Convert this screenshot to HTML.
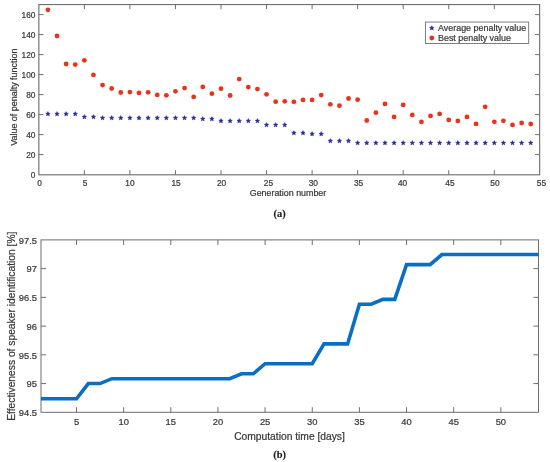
<!DOCTYPE html>
<html lang="en"><head><meta charset="utf-8"><title>Figure</title>
<style>html,body{margin:0;padding:0;background:#fff}body{width:550px;height:462px;overflow:hidden}.s text{stroke:#383838;stroke-width:.22px}.c text{stroke:#222;stroke-width:.15px}</style>
</head><body>
<svg width="550" height="462" viewBox="0 0 550 462" style="display:block">
<rect x="0" y="0" width="550" height="462" fill="#ffffff"/>
<g font-family="'Liberation Sans', sans-serif" fill="#383838" class="s">
<g stroke="#707070" stroke-width="1.15" fill="none">
<rect x="38.85" y="4.55" width="500.80" height="170.25"/>
<path d="M84.35 174.80V170.20M84.35 4.55V9.15M129.90 174.80V170.20M129.90 4.55V9.15M175.45 174.80V170.20M175.45 4.55V9.15M221.00 174.80V170.20M221.00 4.55V9.15M266.55 174.80V170.20M266.55 4.55V9.15M312.10 174.80V170.20M312.10 4.55V9.15M357.65 174.80V170.20M357.65 4.55V9.15M403.20 174.80V170.20M403.20 4.55V9.15M448.75 174.80V170.20M448.75 4.55V9.15M494.30 174.80V170.20M494.30 4.55V9.15M38.85 154.60H43.45M539.65 154.60H535.05M38.85 134.60H43.45M539.65 134.60H535.05M38.85 114.60H43.45M539.65 114.60H535.05M38.85 94.60H43.45M539.65 94.60H535.05M38.85 74.60H43.45M539.65 74.60H535.05M38.85 54.60H43.45M539.65 54.60H535.05M38.85 34.60H43.45M539.65 34.60H535.05M38.85 14.60H43.45M539.65 14.60H535.05" stroke="#6e6e6e" stroke-width="1"/>
</g>
<g font-size="8.3px">
<text x="39.60" y="185.6" text-anchor="middle">0</text>
<text x="84.95" y="185.6" text-anchor="middle">5</text>
<text x="129.90" y="185.6" text-anchor="middle">10</text>
<text x="176.05" y="185.6" text-anchor="middle">15</text>
<text x="221.60" y="185.6" text-anchor="middle">20</text>
<text x="268.45" y="185.6" text-anchor="middle">25</text>
<text x="313.30" y="185.6" text-anchor="middle">30</text>
<text x="358.55" y="185.6" text-anchor="middle">35</text>
<text x="402.50" y="185.6" text-anchor="middle">40</text>
<text x="449.95" y="185.6" text-anchor="middle">45</text>
<text x="494.90" y="185.6" text-anchor="middle">50</text>
<text x="541.45" y="185.6" text-anchor="middle">55</text>
<text x="35.4" y="178.40" text-anchor="end">0</text>
<text x="35.4" y="158.40" text-anchor="end">20</text>
<text x="35.4" y="138.40" text-anchor="end">40</text>
<text x="35.4" y="118.40" text-anchor="end">60</text>
<text x="35.4" y="98.40" text-anchor="end">80</text>
<text x="35.4" y="78.40" text-anchor="end">100</text>
<text x="35.4" y="58.40" text-anchor="end">120</text>
<text x="35.4" y="38.40" text-anchor="end">140</text>
<text x="35.4" y="18.40" text-anchor="end">160</text>
</g>
<text x="288" y="196.3" font-size="8.9px" text-anchor="middle">Generation number</text>
<text transform="translate(16.6 97.2) rotate(-90)" font-size="8.95px" text-anchor="middle">Value of penalty function</text>
<polygon points="47.91,111.62 48.55,113.10 50.15,113.25 48.94,114.32 49.30,115.89 47.91,115.07 46.52,115.89 46.88,114.32 45.67,113.25 47.27,113.10" fill="#2a2d98" stroke="#2a2d98" stroke-width="0.5" stroke-linejoin="miter"/>
<polygon points="57.02,111.62 57.66,113.10 59.26,113.25 58.05,114.32 58.41,115.89 57.02,115.07 55.63,115.89 55.99,114.32 54.78,113.25 56.38,113.10" fill="#2a2d98" stroke="#2a2d98" stroke-width="0.5" stroke-linejoin="miter"/>
<polygon points="66.13,111.62 66.77,113.10 68.37,113.25 67.16,114.32 67.52,115.89 66.13,115.07 64.74,115.89 65.10,114.32 63.89,113.25 65.49,113.10" fill="#2a2d98" stroke="#2a2d98" stroke-width="0.5" stroke-linejoin="miter"/>
<polygon points="75.24,111.62 75.88,113.10 77.48,113.25 76.27,114.32 76.63,115.89 75.24,115.07 73.85,115.89 74.21,114.32 73.00,113.25 74.60,113.10" fill="#2a2d98" stroke="#2a2d98" stroke-width="0.5" stroke-linejoin="miter"/>
<polygon points="84.35,114.62 84.99,116.10 86.59,116.25 85.38,117.32 85.74,118.89 84.35,118.07 82.96,118.89 83.32,117.32 82.11,116.25 83.71,116.10" fill="#2a2d98" stroke="#2a2d98" stroke-width="0.5" stroke-linejoin="miter"/>
<polygon points="93.46,114.62 94.10,116.10 95.70,116.25 94.49,117.32 94.85,118.89 93.46,118.07 92.07,118.89 92.43,117.32 91.22,116.25 92.82,116.10" fill="#2a2d98" stroke="#2a2d98" stroke-width="0.5" stroke-linejoin="miter"/>
<polygon points="102.57,115.62 103.21,117.10 104.81,117.25 103.60,118.32 103.96,119.89 102.57,119.07 101.18,119.89 101.54,118.32 100.33,117.25 101.93,117.10" fill="#2a2d98" stroke="#2a2d98" stroke-width="0.5" stroke-linejoin="miter"/>
<polygon points="111.68,115.62 112.32,117.10 113.92,117.25 112.71,118.32 113.07,119.89 111.68,119.07 110.29,119.89 110.65,118.32 109.44,117.25 111.04,117.10" fill="#2a2d98" stroke="#2a2d98" stroke-width="0.5" stroke-linejoin="miter"/>
<polygon points="120.79,115.62 121.43,117.10 123.03,117.25 121.82,118.32 122.18,119.89 120.79,119.07 119.40,119.89 119.76,118.32 118.55,117.25 120.15,117.10" fill="#2a2d98" stroke="#2a2d98" stroke-width="0.5" stroke-linejoin="miter"/>
<polygon points="129.90,115.62 130.54,117.10 132.14,117.25 130.93,118.32 131.29,119.89 129.90,119.07 128.51,119.89 128.87,118.32 127.66,117.25 129.26,117.10" fill="#2a2d98" stroke="#2a2d98" stroke-width="0.5" stroke-linejoin="miter"/>
<polygon points="139.01,115.62 139.65,117.10 141.25,117.25 140.04,118.32 140.40,119.89 139.01,119.07 137.62,119.89 137.98,118.32 136.77,117.25 138.37,117.10" fill="#2a2d98" stroke="#2a2d98" stroke-width="0.5" stroke-linejoin="miter"/>
<polygon points="148.12,115.62 148.76,117.10 150.36,117.25 149.15,118.32 149.51,119.89 148.12,119.07 146.73,119.89 147.09,118.32 145.88,117.25 147.48,117.10" fill="#2a2d98" stroke="#2a2d98" stroke-width="0.5" stroke-linejoin="miter"/>
<polygon points="157.23,115.62 157.87,117.10 159.47,117.25 158.26,118.32 158.62,119.89 157.23,119.07 155.84,119.89 156.20,118.32 154.99,117.25 156.59,117.10" fill="#2a2d98" stroke="#2a2d98" stroke-width="0.5" stroke-linejoin="miter"/>
<polygon points="166.34,115.62 166.98,117.10 168.58,117.25 167.37,118.32 167.73,119.89 166.34,119.07 164.95,119.89 165.31,118.32 164.10,117.25 165.70,117.10" fill="#2a2d98" stroke="#2a2d98" stroke-width="0.5" stroke-linejoin="miter"/>
<polygon points="175.45,115.62 176.09,117.10 177.69,117.25 176.48,118.32 176.84,119.89 175.45,119.07 174.06,119.89 174.42,118.32 173.21,117.25 174.81,117.10" fill="#2a2d98" stroke="#2a2d98" stroke-width="0.5" stroke-linejoin="miter"/>
<polygon points="184.56,115.62 185.20,117.10 186.80,117.25 185.59,118.32 185.95,119.89 184.56,119.07 183.17,119.89 183.53,118.32 182.32,117.25 183.92,117.10" fill="#2a2d98" stroke="#2a2d98" stroke-width="0.5" stroke-linejoin="miter"/>
<polygon points="193.67,115.62 194.31,117.10 195.91,117.25 194.70,118.32 195.06,119.89 193.67,119.07 192.28,119.89 192.64,118.32 191.43,117.25 193.03,117.10" fill="#2a2d98" stroke="#2a2d98" stroke-width="0.5" stroke-linejoin="miter"/>
<polygon points="202.78,116.62 203.42,118.10 205.02,118.25 203.81,119.32 204.17,120.89 202.78,120.07 201.39,120.89 201.75,119.32 200.54,118.25 202.14,118.10" fill="#2a2d98" stroke="#2a2d98" stroke-width="0.5" stroke-linejoin="miter"/>
<polygon points="211.89,116.62 212.53,118.10 214.13,118.25 212.92,119.32 213.28,120.89 211.89,120.07 210.50,120.89 210.86,119.32 209.65,118.25 211.25,118.10" fill="#2a2d98" stroke="#2a2d98" stroke-width="0.5" stroke-linejoin="miter"/>
<polygon points="221.00,118.62 221.64,120.10 223.24,120.25 222.03,121.32 222.39,122.89 221.00,122.07 219.61,122.89 219.97,121.32 218.76,120.25 220.36,120.10" fill="#2a2d98" stroke="#2a2d98" stroke-width="0.5" stroke-linejoin="miter"/>
<polygon points="230.11,118.62 230.75,120.10 232.35,120.25 231.14,121.32 231.50,122.89 230.11,122.07 228.72,122.89 229.08,121.32 227.87,120.25 229.47,120.10" fill="#2a2d98" stroke="#2a2d98" stroke-width="0.5" stroke-linejoin="miter"/>
<polygon points="239.22,118.62 239.86,120.10 241.46,120.25 240.25,121.32 240.61,122.89 239.22,122.07 237.83,122.89 238.19,121.32 236.98,120.25 238.58,120.10" fill="#2a2d98" stroke="#2a2d98" stroke-width="0.5" stroke-linejoin="miter"/>
<polygon points="248.33,118.62 248.97,120.10 250.57,120.25 249.36,121.32 249.72,122.89 248.33,122.07 246.94,122.89 247.30,121.32 246.09,120.25 247.69,120.10" fill="#2a2d98" stroke="#2a2d98" stroke-width="0.5" stroke-linejoin="miter"/>
<polygon points="257.44,118.62 258.08,120.10 259.68,120.25 258.47,121.32 258.83,122.89 257.44,122.07 256.05,122.89 256.41,121.32 255.20,120.25 256.80,120.10" fill="#2a2d98" stroke="#2a2d98" stroke-width="0.5" stroke-linejoin="miter"/>
<polygon points="266.55,122.62 267.19,124.10 268.79,124.25 267.58,125.32 267.94,126.89 266.55,126.07 265.16,126.89 265.52,125.32 264.31,124.25 265.91,124.10" fill="#2a2d98" stroke="#2a2d98" stroke-width="0.5" stroke-linejoin="miter"/>
<polygon points="275.66,122.62 276.30,124.10 277.90,124.25 276.69,125.32 277.05,126.89 275.66,126.07 274.27,126.89 274.63,125.32 273.42,124.25 275.02,124.10" fill="#2a2d98" stroke="#2a2d98" stroke-width="0.5" stroke-linejoin="miter"/>
<polygon points="284.77,122.62 285.41,124.10 287.01,124.25 285.80,125.32 286.16,126.89 284.77,126.07 283.38,126.89 283.74,125.32 282.53,124.25 284.13,124.10" fill="#2a2d98" stroke="#2a2d98" stroke-width="0.5" stroke-linejoin="miter"/>
<polygon points="293.88,130.62 294.52,132.10 296.12,132.25 294.91,133.32 295.27,134.89 293.88,134.07 292.49,134.89 292.85,133.32 291.64,132.25 293.24,132.10" fill="#2a2d98" stroke="#2a2d98" stroke-width="0.5" stroke-linejoin="miter"/>
<polygon points="302.99,130.62 303.63,132.10 305.23,132.25 304.02,133.32 304.38,134.89 302.99,134.07 301.60,134.89 301.96,133.32 300.75,132.25 302.35,132.10" fill="#2a2d98" stroke="#2a2d98" stroke-width="0.5" stroke-linejoin="miter"/>
<polygon points="312.10,131.62 312.74,133.10 314.34,133.25 313.13,134.32 313.49,135.89 312.10,135.07 310.71,135.89 311.07,134.32 309.86,133.25 311.46,133.10" fill="#2a2d98" stroke="#2a2d98" stroke-width="0.5" stroke-linejoin="miter"/>
<polygon points="321.21,131.62 321.85,133.10 323.45,133.25 322.24,134.32 322.60,135.89 321.21,135.07 319.82,135.89 320.18,134.32 318.97,133.25 320.57,133.10" fill="#2a2d98" stroke="#2a2d98" stroke-width="0.5" stroke-linejoin="miter"/>
<polygon points="330.32,138.62 330.96,140.10 332.56,140.25 331.35,141.32 331.71,142.89 330.32,142.07 328.93,142.89 329.29,141.32 328.08,140.25 329.68,140.10" fill="#2a2d98" stroke="#2a2d98" stroke-width="0.5" stroke-linejoin="miter"/>
<polygon points="339.43,138.62 340.07,140.10 341.67,140.25 340.46,141.32 340.82,142.89 339.43,142.07 338.04,142.89 338.40,141.32 337.19,140.25 338.79,140.10" fill="#2a2d98" stroke="#2a2d98" stroke-width="0.5" stroke-linejoin="miter"/>
<polygon points="348.54,138.62 349.18,140.10 350.78,140.25 349.57,141.32 349.93,142.89 348.54,142.07 347.15,142.89 347.51,141.32 346.30,140.25 347.90,140.10" fill="#2a2d98" stroke="#2a2d98" stroke-width="0.5" stroke-linejoin="miter"/>
<polygon points="357.65,140.62 358.29,142.10 359.89,142.25 358.68,143.32 359.04,144.89 357.65,144.07 356.26,144.89 356.62,143.32 355.41,142.25 357.01,142.10" fill="#2a2d98" stroke="#2a2d98" stroke-width="0.5" stroke-linejoin="miter"/>
<polygon points="366.76,140.62 367.40,142.10 369.00,142.25 367.79,143.32 368.15,144.89 366.76,144.07 365.37,144.89 365.73,143.32 364.52,142.25 366.12,142.10" fill="#2a2d98" stroke="#2a2d98" stroke-width="0.5" stroke-linejoin="miter"/>
<polygon points="375.87,140.62 376.51,142.10 378.11,142.25 376.90,143.32 377.26,144.89 375.87,144.07 374.48,144.89 374.84,143.32 373.63,142.25 375.23,142.10" fill="#2a2d98" stroke="#2a2d98" stroke-width="0.5" stroke-linejoin="miter"/>
<polygon points="384.98,140.62 385.62,142.10 387.22,142.25 386.01,143.32 386.37,144.89 384.98,144.07 383.59,144.89 383.95,143.32 382.74,142.25 384.34,142.10" fill="#2a2d98" stroke="#2a2d98" stroke-width="0.5" stroke-linejoin="miter"/>
<polygon points="394.09,140.62 394.73,142.10 396.33,142.25 395.12,143.32 395.48,144.89 394.09,144.07 392.70,144.89 393.06,143.32 391.85,142.25 393.45,142.10" fill="#2a2d98" stroke="#2a2d98" stroke-width="0.5" stroke-linejoin="miter"/>
<polygon points="403.20,140.62 403.84,142.10 405.44,142.25 404.23,143.32 404.59,144.89 403.20,144.07 401.81,144.89 402.17,143.32 400.96,142.25 402.56,142.10" fill="#2a2d98" stroke="#2a2d98" stroke-width="0.5" stroke-linejoin="miter"/>
<polygon points="412.31,140.62 412.95,142.10 414.55,142.25 413.34,143.32 413.70,144.89 412.31,144.07 410.92,144.89 411.28,143.32 410.07,142.25 411.67,142.10" fill="#2a2d98" stroke="#2a2d98" stroke-width="0.5" stroke-linejoin="miter"/>
<polygon points="421.42,140.62 422.06,142.10 423.66,142.25 422.45,143.32 422.81,144.89 421.42,144.07 420.03,144.89 420.39,143.32 419.18,142.25 420.78,142.10" fill="#2a2d98" stroke="#2a2d98" stroke-width="0.5" stroke-linejoin="miter"/>
<polygon points="430.53,140.62 431.17,142.10 432.77,142.25 431.56,143.32 431.92,144.89 430.53,144.07 429.14,144.89 429.50,143.32 428.29,142.25 429.89,142.10" fill="#2a2d98" stroke="#2a2d98" stroke-width="0.5" stroke-linejoin="miter"/>
<polygon points="439.64,140.62 440.28,142.10 441.88,142.25 440.67,143.32 441.03,144.89 439.64,144.07 438.25,144.89 438.61,143.32 437.40,142.25 439.00,142.10" fill="#2a2d98" stroke="#2a2d98" stroke-width="0.5" stroke-linejoin="miter"/>
<polygon points="448.75,140.62 449.39,142.10 450.99,142.25 449.78,143.32 450.14,144.89 448.75,144.07 447.36,144.89 447.72,143.32 446.51,142.25 448.11,142.10" fill="#2a2d98" stroke="#2a2d98" stroke-width="0.5" stroke-linejoin="miter"/>
<polygon points="457.86,140.62 458.50,142.10 460.10,142.25 458.89,143.32 459.25,144.89 457.86,144.07 456.47,144.89 456.83,143.32 455.62,142.25 457.22,142.10" fill="#2a2d98" stroke="#2a2d98" stroke-width="0.5" stroke-linejoin="miter"/>
<polygon points="466.97,140.62 467.61,142.10 469.21,142.25 468.00,143.32 468.36,144.89 466.97,144.07 465.58,144.89 465.94,143.32 464.73,142.25 466.33,142.10" fill="#2a2d98" stroke="#2a2d98" stroke-width="0.5" stroke-linejoin="miter"/>
<polygon points="476.08,140.62 476.72,142.10 478.32,142.25 477.11,143.32 477.47,144.89 476.08,144.07 474.69,144.89 475.05,143.32 473.84,142.25 475.44,142.10" fill="#2a2d98" stroke="#2a2d98" stroke-width="0.5" stroke-linejoin="miter"/>
<polygon points="485.19,140.62 485.83,142.10 487.43,142.25 486.22,143.32 486.58,144.89 485.19,144.07 483.80,144.89 484.16,143.32 482.95,142.25 484.55,142.10" fill="#2a2d98" stroke="#2a2d98" stroke-width="0.5" stroke-linejoin="miter"/>
<polygon points="494.30,140.62 494.94,142.10 496.54,142.25 495.33,143.32 495.69,144.89 494.30,144.07 492.91,144.89 493.27,143.32 492.06,142.25 493.66,142.10" fill="#2a2d98" stroke="#2a2d98" stroke-width="0.5" stroke-linejoin="miter"/>
<polygon points="503.41,140.62 504.05,142.10 505.65,142.25 504.44,143.32 504.80,144.89 503.41,144.07 502.02,144.89 502.38,143.32 501.17,142.25 502.77,142.10" fill="#2a2d98" stroke="#2a2d98" stroke-width="0.5" stroke-linejoin="miter"/>
<polygon points="512.52,140.62 513.16,142.10 514.76,142.25 513.55,143.32 513.91,144.89 512.52,144.07 511.13,144.89 511.49,143.32 510.28,142.25 511.88,142.10" fill="#2a2d98" stroke="#2a2d98" stroke-width="0.5" stroke-linejoin="miter"/>
<polygon points="521.63,140.62 522.27,142.10 523.87,142.25 522.66,143.32 523.02,144.89 521.63,144.07 520.24,144.89 520.60,143.32 519.39,142.25 520.99,142.10" fill="#2a2d98" stroke="#2a2d98" stroke-width="0.5" stroke-linejoin="miter"/>
<polygon points="530.74,140.62 531.38,142.10 532.98,142.25 531.77,143.32 532.13,144.89 530.74,144.07 529.35,144.89 529.71,143.32 528.50,142.25 530.10,142.10" fill="#2a2d98" stroke="#2a2d98" stroke-width="0.5" stroke-linejoin="miter"/>
<g fill="#e7341b">
<circle cx="47.91" cy="9.80" r="2.42"/>
<circle cx="57.02" cy="36.00" r="2.42"/>
<circle cx="66.13" cy="64.00" r="2.42"/>
<circle cx="75.24" cy="64.60" r="2.42"/>
<circle cx="84.35" cy="60.30" r="2.42"/>
<circle cx="93.46" cy="74.90" r="2.42"/>
<circle cx="102.57" cy="85.10" r="2.42"/>
<circle cx="111.68" cy="88.50" r="2.42"/>
<circle cx="120.79" cy="92.50" r="2.42"/>
<circle cx="129.90" cy="92.10" r="2.42"/>
<circle cx="139.01" cy="92.90" r="2.42"/>
<circle cx="148.12" cy="92.30" r="2.42"/>
<circle cx="157.23" cy="94.90" r="2.42"/>
<circle cx="166.34" cy="95.30" r="2.42"/>
<circle cx="175.45" cy="91.30" r="2.42"/>
<circle cx="184.56" cy="88.10" r="2.42"/>
<circle cx="193.67" cy="96.90" r="2.42"/>
<circle cx="202.78" cy="86.90" r="2.42"/>
<circle cx="211.89" cy="93.70" r="2.42"/>
<circle cx="221.00" cy="88.70" r="2.42"/>
<circle cx="230.11" cy="95.50" r="2.42"/>
<circle cx="239.22" cy="79.10" r="2.42"/>
<circle cx="248.33" cy="87.10" r="2.42"/>
<circle cx="257.44" cy="89.10" r="2.42"/>
<circle cx="266.55" cy="94.30" r="2.42"/>
<circle cx="275.66" cy="101.70" r="2.42"/>
<circle cx="284.77" cy="101.30" r="2.42"/>
<circle cx="293.88" cy="101.80" r="2.42"/>
<circle cx="302.99" cy="99.90" r="2.42"/>
<circle cx="312.10" cy="99.90" r="2.42"/>
<circle cx="321.21" cy="95.10" r="2.42"/>
<circle cx="330.32" cy="104.30" r="2.42"/>
<circle cx="339.43" cy="105.70" r="2.42"/>
<circle cx="348.54" cy="98.50" r="2.42"/>
<circle cx="357.65" cy="99.70" r="2.42"/>
<circle cx="366.76" cy="120.50" r="2.42"/>
<circle cx="375.87" cy="112.70" r="2.42"/>
<circle cx="384.98" cy="103.90" r="2.42"/>
<circle cx="394.09" cy="116.90" r="2.42"/>
<circle cx="403.20" cy="104.90" r="2.42"/>
<circle cx="412.31" cy="114.90" r="2.42"/>
<circle cx="421.42" cy="121.90" r="2.42"/>
<circle cx="430.53" cy="115.90" r="2.42"/>
<circle cx="439.64" cy="113.90" r="2.42"/>
<circle cx="448.75" cy="119.90" r="2.42"/>
<circle cx="457.86" cy="120.90" r="2.42"/>
<circle cx="466.97" cy="116.90" r="2.42"/>
<circle cx="476.08" cy="123.90" r="2.42"/>
<circle cx="485.19" cy="106.80" r="2.42"/>
<circle cx="494.30" cy="121.80" r="2.42"/>
<circle cx="503.41" cy="120.80" r="2.42"/>
<circle cx="512.52" cy="124.90" r="2.42"/>
<circle cx="521.63" cy="123.00" r="2.42"/>
<circle cx="530.74" cy="124.00" r="2.42"/>
</g>
<rect x="425.4" y="22.05" width="103.3" height="21.45" fill="#fff" stroke="#707070" stroke-width="0.9"/>
<polygon points="431.80,25.65 432.46,27.19 434.13,27.34 432.87,28.45 433.24,30.08 431.80,29.23 430.36,30.08 430.73,28.45 429.47,27.34 431.14,27.19" fill="#2a2d98" stroke="#2a2d98" stroke-width="0.5" stroke-linejoin="miter"/>
<circle cx="431.8" cy="38.0" r="2.42" fill="#e7341b"/>
<text x="438.0" y="30.9" font-size="8.93px">Average penalty value</text>
<text x="438.0" y="40.75" font-size="8.93px">Best penalty value</text>
<g stroke="#6c6c6c" stroke-width="1" fill="none">
<rect x="41.00" y="239.90" width="497.50" height="172.40"/>
<path d="M76.50 412.30V407.20M76.50 239.90V245.00M123.65 412.30V407.20M123.65 239.90V245.00M170.80 412.30V407.20M170.80 239.90V245.00M217.95 412.30V407.20M217.95 239.90V245.00M265.10 412.30V407.20M265.10 239.90V245.00M312.25 412.30V407.20M312.25 239.90V245.00M359.40 412.30V407.20M359.40 239.90V245.00M406.55 412.30V407.20M406.55 239.90V245.00M453.70 412.30V407.20M453.70 239.90V245.00M500.85 412.30V407.20M500.85 239.90V245.00M41.00 383.57H46.10M538.50 383.57H533.40M41.00 354.83H46.10M538.50 354.83H533.40M41.00 326.10H46.10M538.50 326.10H533.40M41.00 297.37H46.10M538.50 297.37H533.40M41.00 268.63H46.10M538.50 268.63H533.40" stroke="#6e6e6e" stroke-width="1"/>
</g>
<g font-size="9.4px">
<text x="76.50" y="424.6" text-anchor="middle">5</text>
<text x="123.65" y="424.6" text-anchor="middle">10</text>
<text x="170.80" y="424.6" text-anchor="middle">15</text>
<text x="217.95" y="424.6" text-anchor="middle">20</text>
<text x="265.10" y="424.6" text-anchor="middle">25</text>
<text x="312.25" y="424.6" text-anchor="middle">30</text>
<text x="359.40" y="424.6" text-anchor="middle">35</text>
<text x="406.55" y="424.6" text-anchor="middle">40</text>
<text x="453.70" y="424.6" text-anchor="middle">45</text>
<text x="500.85" y="424.6" text-anchor="middle">50</text>
<text x="37" y="416.10" text-anchor="end">94.5</text>
<text x="37" y="387.37" text-anchor="end">95</text>
<text x="37" y="358.63" text-anchor="end">95.5</text>
<text x="37" y="329.90" text-anchor="end">96</text>
<text x="37" y="301.17" text-anchor="end">96.5</text>
<text x="37" y="272.43" text-anchor="end">97</text>
<text x="37" y="243.70" text-anchor="end">97.5</text>
</g>
<text x="289.5" y="440" font-size="10.28px" text-anchor="middle">Computation time [days]</text>
<text transform="translate(15.3 326.2) rotate(-90)" font-size="10.28px" text-anchor="middle">Effectiveness of speaker identification [%]</text>
<polyline points="41.00,398.80 76.50,398.80 88.29,383.57 100.08,383.57 111.86,378.68 229.74,378.68 241.53,373.80 253.31,373.80 265.10,363.74 312.25,363.74 324.04,343.91 347.61,343.91 359.40,304.26 371.19,304.26 382.97,299.38 394.76,299.38 406.55,264.61 430.12,264.61 441.91,254.55 538.50,254.55" fill="none" stroke="#0a6fc2" stroke-width="3.6" stroke-linejoin="miter"/>
</g>
<g font-family="'Liberation Serif', serif" font-weight="bold" font-size="10.4px" fill="#222" text-anchor="middle" class="c">
<text x="279.6" y="216.5">(a)</text>
<text x="279.7" y="457.6">(b)</text>
</g>
</svg>
</body></html>
